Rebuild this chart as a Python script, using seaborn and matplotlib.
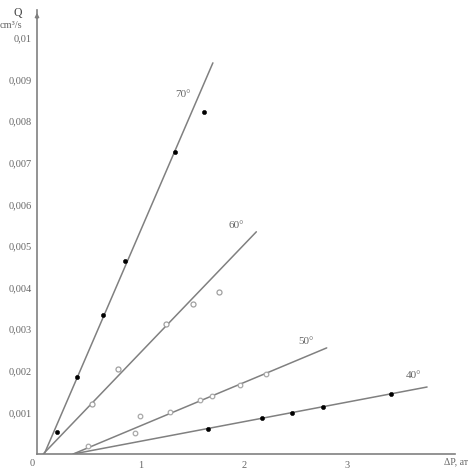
import matplotlib
matplotlib.use("Agg")
import matplotlib.pyplot as plt
import seaborn as sns
import pandas as pd
import numpy as np

sns.set_style("white")
plt.rcParams['font.family'] = ['Liberation Serif', 'DejaVu Serif']

# data points
x70 = [0.19, 0.39, 0.64, 0.85, 1.33, 1.61]
y70 = [0.00053, 0.00185, 0.00334, 0.00464, 0.00726, 0.00822]
x60 = [0.53, 0.78, 1.25, 1.51, 1.76]
y60 = [0.00120, 0.00204, 0.00312, 0.00360, 0.00390]
x50 = [0.49, 0.95, 1.00, 1.29, 1.58, 1.69, 1.96, 2.21]
y50 = [0.00019, 0.00050, 0.00091, 0.00101, 0.00130, 0.00140, 0.00166, 0.00192]
x40 = [1.65, 2.17, 2.46, 2.76, 3.42]
y40 = [0.00060, 0.00087, 0.00099, 0.00113, 0.00144]

# fitted lines (start/end)
lx70 = [0.07, 1.70]; ly70 = [0.0, 0.00940]
lx60 = [0.06, 2.12]; ly60 = [0.0, 0.00534]
lx50 = [0.35, 2.80]; ly50 = [0.0, 0.00255]
lx40 = [0.35, 3.77]; ly40 = [0.0, 0.00161]

labels = ["70°", "60°", "50°", "40°"]
label_pos = [(1.41, 0.00853), (1.93, 0.00538), (2.60, 0.00260), (3.64, 0.00177)]

yticks = [0.001, 0.002, 0.003, 0.004, 0.005, 0.006, 0.007, 0.008, 0.009, 0.01]
ytick_labels = ["0,001", "0,002", "0,003", "0,004", "0,005", "0,006", "0,007", "0,008", "0,009", "0,01"]
xticks = [1, 2, 3]
xtick_labels = ["1", "2", "3"]

fig = plt.figure(figsize=(4.74, 4.74), dpi=100)
ax = fig.add_axes([37/474, 20/474, 418/474, 444/474])
gray = "#808080"
tcol = "#666666"

for lx, ly in [(lx70, ly70), (lx60, ly60), (lx50, ly50), (lx40, ly40)]:
    sns.lineplot(x=lx, y=ly, ax=ax, color=gray, lw=1.1, sort=False)

sns.scatterplot(x=x70, y=y70, ax=ax, color="black", s=9, edgecolor="black", linewidth=0.4, zorder=3)
sns.scatterplot(x=x40, y=y40, ax=ax, color="black", s=9, edgecolor="black", linewidth=0.4, zorder=3)
sns.scatterplot(x=x60, y=y60, ax=ax, facecolor="white", s=13, edgecolor="#a0a0a0", linewidth=0.9, zorder=3)
sns.scatterplot(x=x50, y=y50, ax=ax, facecolor="white", s=11, edgecolor="#a8a8a8", linewidth=0.9, zorder=3)

for lab, (lx, ly) in zip(labels, label_pos):
    ax.text(lx, ly, lab, fontsize=8, color=tcol, ha="center", va="bottom")

ax.set_xlim(0, 4.04)
ax.set_ylim(0, 0.01067)
ax.set_xticks(xticks)
ax.set_xticklabels(xtick_labels)
ax.set_yticks(yticks)
ax.set_yticklabels(ytick_labels)
ax.tick_params(axis="both", direction="out", length=3, width=0.8, color=gray,
               labelcolor=tcol, labelsize=7.5, pad=1)
ax.tick_params(axis="x", pad=2)
for s in ["top", "right"]:
    ax.spines[s].set_visible(False)
for s in ["left", "bottom"]:
    ax.spines[s].set_color(gray)
    ax.spines[s].set_linewidth(1.2)

# arrow on y axis
ax.annotate("", xy=(0, 1.0), xytext=(0, 0.975), xycoords="axes fraction",
            arrowprops=dict(arrowstyle="-|>", color=gray, lw=1.0, mutation_scale=6))

fig.text(13/474, 1 - 13/474, "Q", fontsize=8.5, color="#444444", ha="left", va="center")
fig.text(0/474, 1 - 26/474, "cm³/s", fontsize=7.5, color=tcol, ha="left", va="center")
fig.text(32/474, 1 - 463/474, "0", fontsize=7.5, color=tcol, ha="center", va="center")
fig.text(444/474, 1 - 462/474, "ΔP, ат", fontsize=7, color=tcol, ha="left", va="center")

fig.savefig("out.png", dpi=100)
